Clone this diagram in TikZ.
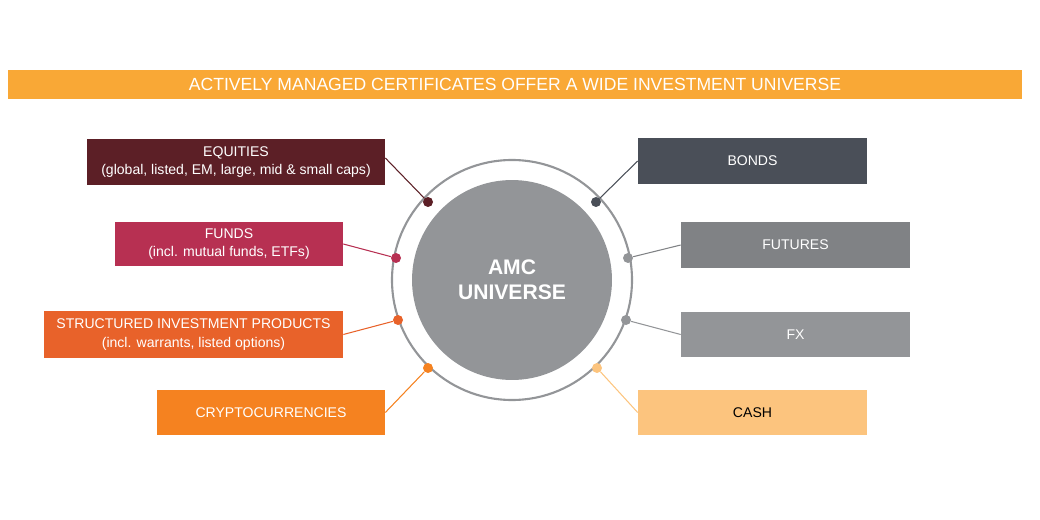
\documentclass[tikz,border=0pt]{standalone}
\usepackage{fontspec}
\setmainfont{Liberation Sans}
\definecolor{banner}{RGB}{249, 168, 54}
\definecolor{equ}{RGB}{92, 31, 38}
\definecolor{fun}{RGB}{183, 48, 82}
\definecolor{sip}{RGB}{232, 98, 42}
\definecolor{cry}{RGB}{245, 130, 32}
\definecolor{bon}{RGB}{74, 79, 88}
\definecolor{fut}{RGB}{128, 130, 133}
\definecolor{fxc}{RGB}{147, 149, 152}
\definecolor{cas}{RGB}{252, 196, 126}
\tikzset{
  box/.style={minimum height=0.92cm, inner sep=0pt, align=center, text=white, font=\fontsize{8}{10.5}\selectfont},
  dot/.style={circle, inner sep=0pt, minimum size=0.2cm},
  link/.style={line width=0.6pt}
}
\begin{document}
\begin{tikzpicture}[x=0.02cm, y=-0.02cm]
      \useasboundingbox (0,0) rectangle (1040,520);
      \node[fill=banner, minimum width=20.28cm, minimum height=0.58cm, inner sep=0pt, text=white, font=\fontsize{10}{12}\selectfont] (title) at (515, 84.5) {ACTIVELY MANAGED CERTIFICATES OFFER A WIDE INVESTMENT UNIVERSE};
      % centre
      \draw[fxc, line width=1.2pt] (512, 280) circle (120);
      \node[circle, fill=fxc, minimum size=4cm, inner sep=0pt, text=white, font=\bfseries\fontsize{12}{14.5}\selectfont, align=center] (amc) at (512, 280) {AMC\\UNIVERSE};
      % left
      \node[box, fill=equ, minimum width=5.96cm] (equities) at (236, 162) {EQUITIES\\(global, listed, EM, large, mid \& small caps)};
      \node[box, fill=fun, minimum width=4.56cm, minimum height=0.88cm] (funds) at (229, 244) {FUNDS\\(incl. mutual funds, ETFs)};
      \node[box, fill=sip, minimum width=5.98cm, minimum height=0.94cm] (sip) at (193.5, 334.5) {STRUCTURED INVESTMENT PRODUCTS\\(incl. warrants, listed options)};
      \node[box, fill=cry, minimum width=4.56cm, minimum height=0.9cm] (crypto) at (271, 412.5) {CRYPTOCURRENCIES};
      % right
      \node[box, fill=bon, minimum width=4.58cm] (bonds) at (752.5, 161) {BONDS};
      \node[box, fill=fut, minimum width=4.58cm] (futures) at (795.5, 245) {FUTURES};
      \node[box, fill=fxc, minimum width=4.58cm, minimum height=0.9cm] (fx) at (795.5, 334.5) {FX};
      \node[box, fill=cas, minimum width=4.58cm, minimum height=0.9cm, text=black] (cash) at (752.5, 412.5) {CASH};
      % dots
      \node[dot, fill=equ] (d1) at (428, 202) {};
      \node[dot, fill=fun] (d2) at (396, 258) {};
      \node[dot, fill=sip] (d3) at (398, 320) {};
      \node[dot, fill=cry] (d4) at (428, 368) {};
      \node[dot, fill=bon] (d5) at (596, 202) {};
      \node[dot, fill=fxc] (d6) at (628, 258) {};
      \node[dot, fill=fxc] (d7) at (626, 320) {};
      \node[dot, fill=cas] (d8) at (597, 368) {};
      \draw[link, equ] (equities.east |- 0,158) -- (d1);
      \draw[link, fun] (funds.east) -- (d2);
      \draw[link, sip] (sip.east) -- (d3);
      \draw[link, cry] (crypto.east) -- (d4);
      \draw[link, bon] (bonds.west) -- (d5);
      \draw[link, fut] (futures.west) -- (d6);
      \draw[link, fxc] (fx.west) -- (d7);
      \draw[link, cas] (cash.west) -- (d8);
\end{tikzpicture}
\end{document}
